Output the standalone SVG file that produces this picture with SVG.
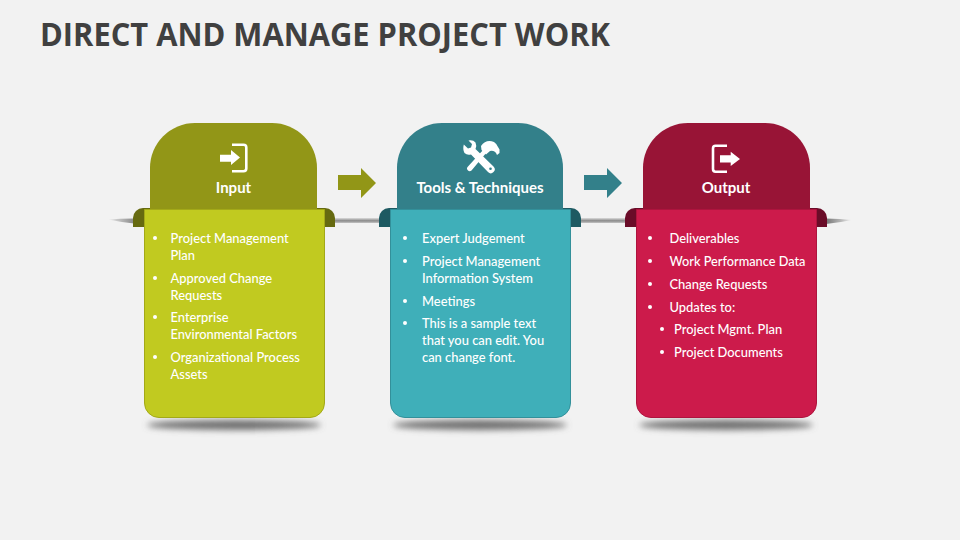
<svg xmlns="http://www.w3.org/2000/svg" width="960" height="540" viewBox="0 0 960 540">
<defs>
<filter id="blur" x="-20%" y="-200%" width="140%" height="500%"><feGaussianBlur stdDeviation="3.4"/></filter>
<linearGradient id="rail" x1="0" y1="0" x2="0" y2="1"><stop offset="0" stop-color="#dcdcdc"/><stop offset="0.55" stop-color="#8a8a8a"/><stop offset="1" stop-color="#c4c4c4"/></linearGradient>
<linearGradient id="railL" x1="0" y1="0" x2="1" y2="0"><stop offset="0" stop-color="#f2f2f2"/><stop offset="0.35" stop-color="#c8c8c8"/><stop offset="1" stop-color="#8a8a8a"/></linearGradient>
<linearGradient id="railR" x1="1" y1="0" x2="0" y2="0"><stop offset="0" stop-color="#f2f2f2"/><stop offset="0.35" stop-color="#c0c0c0"/><stop offset="1" stop-color="#777"/></linearGradient>
<style>
text{font-family:"Lato","Liberation Sans",sans-serif;fill:#fff;font-size:12.9px;font-weight:500}
.title{font-family:"Open Sans","Liberation Sans",sans-serif;font-size:32px;font-weight:700;fill:#404040}
.head{font-size:15px;font-weight:700;text-anchor:middle}
.bullet{fill:#fff}
.ic{fill:none;stroke:#fff;stroke-width:2.6;stroke-linejoin:round}
.iw{fill:#fff}
</style>
</defs>
<rect width="960" height="540" fill="#f2f2f2"/>
<text class="title" x="40" y="46" textLength="570" lengthAdjust="spacingAndGlyphs">DIRECT AND MANAGE PROJECT WORK</text>
<g id="connectors">
<path d="M133 218H827V223H133Z" fill="url(#rail)"/>
<path d="M108 219.500Q120 218.500 134 218.500V223.500Q120 222 108 219.500Z" fill="url(#railL)"/>
<path d="M852 220Q840 218.500 826 218.500V224Q840 222.500 852 220Z" fill="url(#railR)"/>
<path d="M338 175H361V168L376 183L361 198V190H338Z" fill="#929617"/>
<path d="M584 175H607V168L622 183L607 198V190H584Z" fill="#33808a"/>
</g>
<g id="node-input">
<ellipse cx="234" cy="425" rx="87" ry="5" fill="#6e6e6e" filter="url(#blur)"/>
<path d="M133 227V218A10 10 0 0 1 143 208H325A10 10 0 0 1 335 218V227Z" fill="#666a10"/>
<path d="M150 210V168A45 45 0 0 1 195 123H272A45 45 0 0 1 317 168V210Z" fill="#929617"/>
<path d="M144.500 209.500H324.500V403A14.500 14.500 0 0 1 310 417.500H159A14.500 14.500 0 0 1 144.500 403Z" fill="#c1ca20" stroke="#a3a918" stroke-width="1"/>
<path class="ic" d="M232 144.800H243.500Q246.300 144.800 246.300 147.500V168.500Q246.300 171.200 243.500 171.200H232"/>
<path class="iw" d="M220 154.700H231V150L240 157.500L231 165V161.700H220Z"/>
<text class="head" x="233.500" y="193">Input</text>
<circle class="bullet" cx="155" cy="238" r="2"/><text x="170.500" y="243">Project Management</text><text x="170.500" y="260">Plan</text>
<circle class="bullet" cx="155" cy="278" r="2"/><text x="170.500" y="283">Approved Change</text><text x="170.500" y="300">Requests</text>
<circle class="bullet" cx="155" cy="317" r="2"/><text x="170.500" y="322">Enterprise</text><text x="170.500" y="339">Environmental Factors</text>
<circle class="bullet" cx="155" cy="357" r="2"/><text x="170.500" y="362">Organizational Process</text><text x="170.500" y="379">Assets</text>
</g>
<g id="node-tools">
<ellipse cx="480" cy="425" rx="87" ry="5" fill="#6e6e6e" filter="url(#blur)"/>
<path d="M379 227V218A10 10 0 0 1 389 208H571A10 10 0 0 1 581 218V227Z" fill="#1e5a62"/>
<path d="M397 210V168A45 45 0 0 1 442 123H518A45 45 0 0 1 563 168V210Z" fill="#33808a"/>
<path d="M390.500 209.500H570.500V403A14.500 14.500 0 0 1 556 417.500H405A14.500 14.500 0 0 1 390.500 403Z" fill="#3fafb9" stroke="#33909a" stroke-width="1"/>
<path class="iw" d="M468 166.500L483.500 149.500L486.500 152.500L471.500 170.500A2.500 2.500 0 0 1 468 166.500Z"/>
<path class="iw" d="M481 146Q486 139 494 142Q497 144 498 147L499.500 149.500V153L497 155Q495 150 490 151L486 154.500L481.500 150Z"/>
<path class="iw" d="M463.800 144.500L468 148.500L471 147.500L472 144L468.500 140.500Q473 139.500 475.500 142.500Q477 146 475.500 149L493.500 166.500A3.600 3.600 0 0 1 488 172L471 154.500Q467 155.500 464.500 153Q462.500 149.500 463.800 144.500Z"/>
<circle cx="490.500" cy="168.800" r="1.300" fill="#33808a"/>
<text class="head" x="480" y="193">Tools &amp; Techniques</text>
<circle class="bullet" cx="405" cy="238" r="2"/><text x="422" y="243">Expert Judgement</text>
<circle class="bullet" cx="405" cy="261" r="2"/><text x="422" y="266">Project Management</text><text x="422" y="283">Information System</text>
<circle class="bullet" cx="405" cy="301" r="2"/><text x="422" y="306">Meetings</text>
<circle class="bullet" cx="405" cy="323" r="2"/><text x="422" y="328">This is a sample text</text><text x="422" y="345">that you can edit. You</text><text x="422" y="362">can change font.</text>
</g>
<g id="node-output">
<ellipse cx="726" cy="425" rx="87" ry="5" fill="#6e6e6e" filter="url(#blur)"/>
<path d="M625 227V218A10 10 0 0 1 635 208H817A10 10 0 0 1 827 218V227Z" fill="#6a0c28"/>
<path d="M643 210V168A45 45 0 0 1 688 123H765A45 45 0 0 1 810 168V210Z" fill="#981436"/>
<path d="M636.500 209.500H816.500V403A14.500 14.500 0 0 1 802 417.500H651A14.500 14.500 0 0 1 636.500 403Z" fill="#cc1b4b" stroke="#ae143e" stroke-width="1"/>
<path class="ic" d="M727 145.800H715.500Q713 145.800 713 148.500V169Q713 171.700 715.500 171.700H727"/>
<path class="iw" d="M720 155.200H730.700V151.700L740 158.900L730.700 166V162.500H720Z"/>
<text class="head" x="726" y="193">Output</text>
<circle class="bullet" cx="650" cy="238" r="2"/><text x="669.500" y="243">Deliverables</text>
<circle class="bullet" cx="650" cy="261" r="2"/><text x="669.500" y="266" textLength="136" lengthAdjust="spacingAndGlyphs">Work Performance Data</text>
<circle class="bullet" cx="650" cy="284" r="2"/><text x="669.500" y="289">Change Requests</text>
<circle class="bullet" cx="650" cy="307" r="2"/><text x="669.500" y="312">Updates to:</text>
<circle class="bullet" cx="662" cy="329" r="2"/><text x="674" y="334">Project Mgmt. Plan</text>
<circle class="bullet" cx="662" cy="352" r="2"/><text x="674" y="357">Project Documents</text>
</g>
</svg>
